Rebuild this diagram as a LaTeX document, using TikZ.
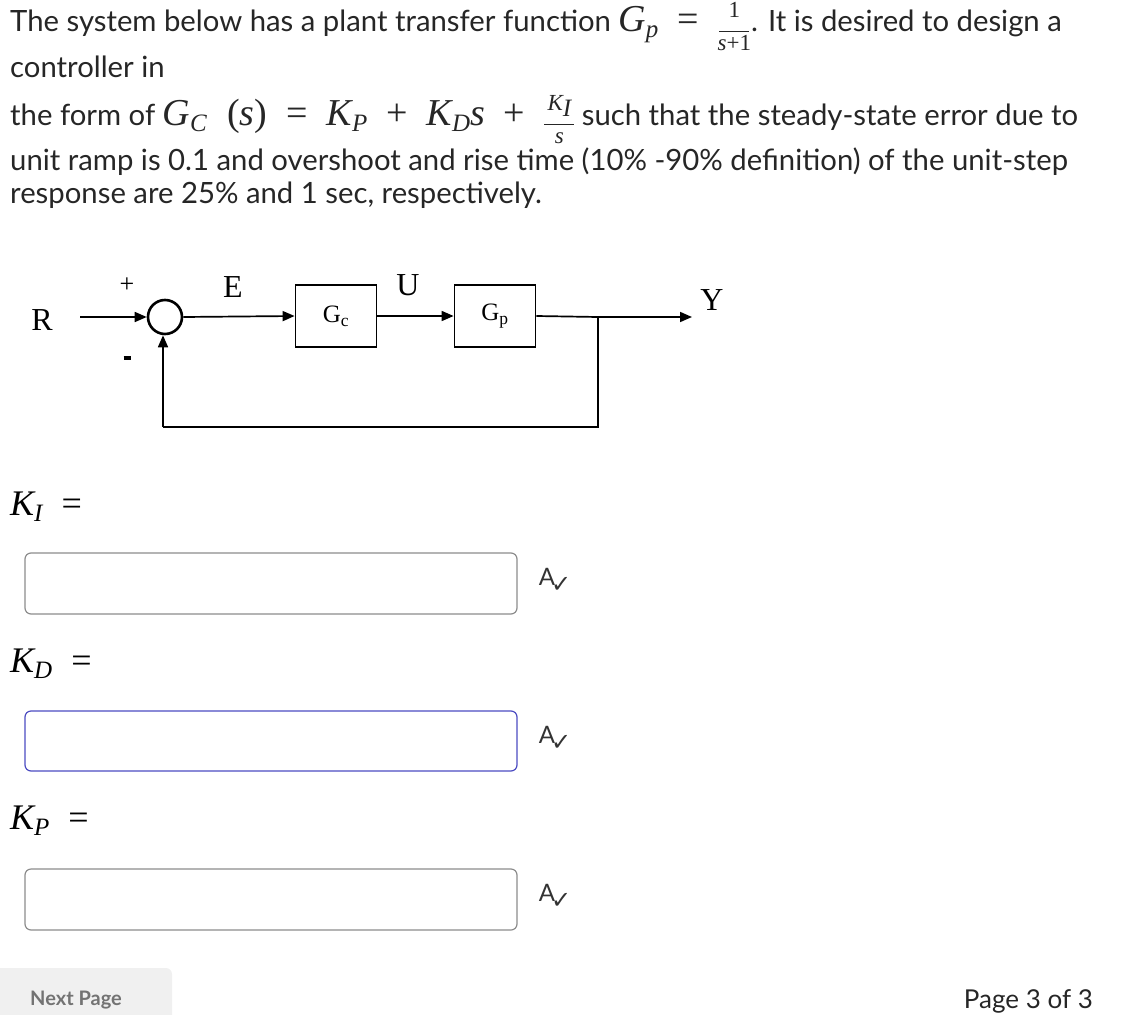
\documentclass[tikz,border=0pt]{standalone}
\usepackage{fontspec}
\setmainfont{Lato}
\newfontfamily\serifd{Liberation Serif}
\newfontfamily\dejavu{DejaVu Sans}
\usetikzlibrary{arrows.meta}
\newcommand{\mI}[1]{{\serifd\itshape #1}}
\newcommand{\mR}[1]{{\serifd #1}}
\newcommand{\mbig}[1]{{\fontsize{38}{38}\selectfont #1}}
\newcommand{\subm}[1]{\raisebox{-6pt}{\fontsize{25}{25}\selectfont\serifd\itshape #1}}
\newcommand{\frc}[2]{\raisebox{-4pt}{\fontsize{23}{23}\selectfont\serifd\begin{tabular}{@{}c@{}}#1\\[-9pt]\rule{30pt}{1pt}\\[-4pt]#2\end{tabular}}}
\newcommand{\chkmark}{A\kern-4pt\raisebox{-7pt}{\dejavu\fontsize{24}{24}\selectfont ✓}}
\tikzset{
  txt/.style={anchor=base west,inner sep=0pt,text=black!85,font=\fontsize{29.3}{32}\selectfont},
  dg/.style={font=\serifd\fontsize{32}{34}\selectfont,inner sep=0pt},
  blk/.style={draw,line width=1.8pt,minimum width=81pt,minimum height=62pt,font=\serifd\fontsize{25}{28}\selectfont},
  ln/.style={line width=1.7pt},
  arr/.style={ln,-{Triangle[length=12pt,width=10pt]}},
  ans/.style={draw=black!45,line width=1.2pt,rounded corners=6pt},
  chk/.style={font=\fontsize{24}{24}\selectfont,text=black!80,inner sep=0pt},
  klab/.style={anchor=base west,inner sep=0pt,font=\serifd\fontsize{36}{38}\selectfont},
}
\begin{document}
\begin{tikzpicture}[x=1pt,y=-1pt]
\useasboundingbox (0,0) rectangle (1134,1014);
\node[txt] (l1) at (10,32) {The system below has a plant transfer function \mbig{\mI{G}\subm{p}\enspace\mR{=}\enspace}\frc{1}{\itshape s\upshape+1}. It is desired to design a};
\node[txt] (l2) at (10,78) {controller in};
\node[txt] (l3) at (10,125) {the form of \mbig{\mI{G}\subm{C}\; \mR{(}\mI{s}\mR{)}\enspace\mR{=}\enspace\mI{K}\subm{P}\enspace\mR{+}\enspace\mI{K}\subm{D}\mI{s}\enspace\mR{+}\enspace}\frc{\itshape K\subm{I}}{\itshape s} such that the steady-state error due to};
\node[txt] (l4) at (10,170) {unit ramp is 0.1 and overshoot and rise time (10\% -90\% definition) of the unit-step};
\node[txt] (l5) at (10,203) {response are 25\% and 1 sec, respectively.};
% block diagram
\node[dg] (R) at (42,320) {R};
\node[draw,circle,line width=2.6pt,minimum size=34pt,inner sep=0pt] (S) at (165,317) {};
\node[dg,font=\serifd\fontsize{26}{28}\selectfont] (pl) at (127,285) {+};
\node[dg] (mi) at (127,358) {\rule{7pt}{4pt}};
\node[dg] (E) at (233,287) {E};
\node[blk] (Gc) at (336,316) {G\textsubscript{c}};
\node[dg] (U) at (408,285) {U};
\node[blk] (Gp) at (495,316) {G\textsubscript{p}};
\coordinate (br) at (598,317);
\coordinate (yend) at (692,317);
\node[dg] (Y) at (712,300) {Y};
\coordinate (fb1) at (598,427);
\coordinate (fb2) at (163,427);
\draw[arr] (80,317) -- (S.west);
\draw[arr] (S.east) -- (Gc.west);
\draw[arr] (Gc.east) -- (Gp.west);
\draw[ln] (Gp.east) -- (br);
\draw[arr] (br) -- (yend);
\draw[ln] (br) -- (fb1) -- (fb2);
\draw[arr] (fb2) -- (S.south -| fb2);
% answers
\node[klab] (kI) at (10,515) {\mI{K}\subm{I}\; =};
\draw[ans] (25,553) rectangle (517,614);
\node[chk] (c1) at (555,580) {\chkmark};
\node[klab] (kD) at (10,672) {\mI{K}\subm{D}\; =};
\draw[ans,draw=blue!65!black!70] (25,711) rectangle (517,771);
\node[chk] (c2) at (555,738) {\chkmark};
\node[klab] (kP) at (10,829) {\mI{K}\subm{P}\; =};
\draw[ans] (25,869) rectangle (517,930);
\node[chk] (c3) at (555,896) {\chkmark};
% footer
\fill[black!6,rounded corners=6pt] (-10,968) rectangle (172,1030);
\node[txt,font=\bfseries\fontsize{20}{22}\selectfont,text=black!55] (np) at (30,1005) {Next Page};
\node[txt,anchor=base east,font=\fontsize{26}{28}\selectfont] (pg) at (1093,1008) {Page 3 of 3};
\end{tikzpicture}
\end{document}
